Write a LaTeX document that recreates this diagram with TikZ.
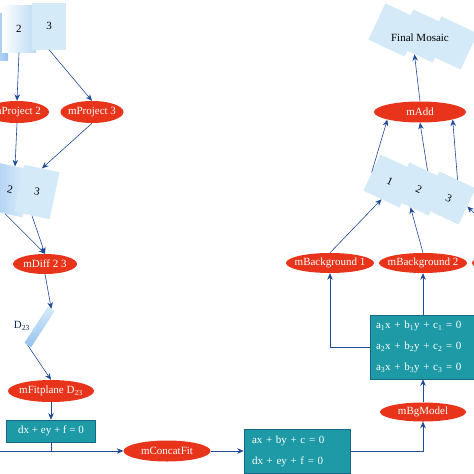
\documentclass[tikz,border=0pt]{standalone}
\usepackage{fontspec}
\setmainfont{Liberation Serif}
\usepackage{xcolor}
\usepackage{tikz}
\usetikzlibrary{shapes.geometric,arrows.meta,calc}

\definecolor{jobred}{RGB}{232,52,26}
\definecolor{fileteal}{RGB}{30,154,166}
\definecolor{filetealdark}{RGB}{22,104,134}
\definecolor{tileblue}{RGB}{213,234,249}
\definecolor{tiledeep}{RGB}{150,195,238}
\definecolor{flowblue}{RGB}{31,74,154}

\tikzset{
    job/.style={ellipse, fill=jobred, text=white, inner xsep=-15pt, inner ysep=-3pt, minimum height=21pt, font=\fontsize{11}{13}\selectfont},
    eqn/.style={rectangle, fill=fileteal, draw=filetealdark, line width=0.6pt, text=white, align=left, inner xsep=6pt, font=\fontsize{11}{21}\selectfont},
    tile/.style={rectangle, fill=tileblue, minimum width=34pt, minimum height=47pt, inner sep=0pt, font=\fontsize{11}{13}\selectfont},
    mtile/.style={tile, minimum width=40pt, minimum height=40pt, rotate=-25},
    flow/.style={draw=flowblue, line width=0.6pt, -{Stealth[length=6.5pt,width=5.5pt]}},
    link/.style={draw=flowblue, line width=0.6pt}
}

\begin{document}
\begin{tikzpicture}[x=1pt,y=-1pt]
        % frame
        \useasboundingbox (0,0) rectangle (474,474);
        \clip (0,0) rectangle (474,474);
        \fill[white] (0,0) rectangle (474,474);

        % input tiles
        \node[tile, left color=white, right color=tiledeep] (in1) at (-9,37) {};
        \node[tile, left color=white, right color=tileblue!60!tiledeep] (in2) at (19,29) {2};
        \node[tile] (in3) at (49,26) {3};

        % projection
        \node[job, minimum width=64pt, minimum height=22pt] (proj2) at (17,112) {mProject 2};
        \node[job, minimum width=63pt, minimum height=22pt] (proj3) at (92,112) {mProject 3};
        \node[tile, rotate=-12, minimum width=36pt, minimum height=48pt, left color=tiledeep!80!tileblue, right color=tileblue!60] (pr2) at (10,190) {2};
        \node[tile, rotate=-12, minimum width=36pt, minimum height=48pt] (pr3) at (37,192) {3};

        % difference and fit
        \node[job, minimum width=64pt, minimum height=20pt] (diff) at (45,264) {mDiff 2 3};
        \node[rectangle, rotate=-33, minimum width=8pt, minimum height=43pt, inner sep=0pt, top color=tileblue, bottom color=tiledeep] (d23) at (39.5,327) {};
        \node[text=flowblue!60!black, font=\fontsize{11}{13}\selectfont, inner sep=0pt] (d23lab) at (22,326) {D\textsubscript{23}};
        \node[job, minimum width=86pt, minimum height=22pt] (fit) at (51,391) {mFitplane D\textsubscript{23}};
        \node[eqn, minimum width=89pt, minimum height=22pt, align=center] (plane) at (51,431) {dx + ey + f = 0};

        % concatenation
        \coordinate (feed) at (0,451);
        \node[job, minimum width=87pt] (concat) at (167,451) {mConcatFit};
        \node[eqn, minimum width=106pt, minimum height=44pt, text width=90pt] (fits) at (297,451) {ax + by + c = 0\\dx + ey + f = 0};

        % background model
        \node[job, minimum width=86pt, minimum height=19pt] (bgmodel) at (423,412) {mBgModel};
        \node[eqn, minimum width=106pt, minimum height=64pt, text width=94pt] (coeffs) at (423,347)
            {a\textsubscript{1}x + b\textsubscript{1}y + c\textsubscript{1} = 0\\a\textsubscript{2}x + b\textsubscript{2}y + c\textsubscript{2} = 0\\a\textsubscript{3}x + b\textsubscript{3}y + c\textsubscript{3} = 0};
        \node[job, minimum width=88pt, minimum height=20pt] (bg1) at (330,263) {mBackground 1};
        \node[job, minimum width=88pt, minimum height=20pt] (bg2) at (423,263) {mBackground 2};
        \node[job, minimum width=88pt, minimum height=20pt] (bg3) at (516,263) {mBackground 3};

        % corrected tiles
        \node[mtile] (cr1) at (390,181) {1};
        \node[mtile] (cr2) at (419,189) {2};
        \node[mtile] (cr3) at (449,198) {3};

        % co-addition
        \node[job, minimum width=92pt] (add) at (420,112) {mAdd};
        \node[mtile] (fm1) at (395,30) {};
        \node[mtile] (fm2) at (423,36) {};
        \node[mtile] (fm3) at (451,43) {};
        \node[font=\fontsize{11}{13}\selectfont] (final) at (420,38) {Final Mosaic};

        % arrows
        \draw[flow] (in2.south) -- (proj2.north);
        \draw[flow] (in3.south) -- (proj3.north);
        \draw[flow] (proj2.south) -- (pr2.north);
        \draw[flow] (proj3.south) -- (pr3.north);
        \draw[flow] (pr2.south) -- (diff.north);
        \draw[flow] (pr3.south) -- (diff.north);
        \draw[flow] (diff.south) -- (d23.north);
        \draw[flow] (d23.south) -- (fit.north);
        \draw[flow] (fit.south) -- (plane.north);
        \draw[link] (plane.south) -- (plane.south |- feed);
        \draw[flow] (feed) -- (concat.west);
        \draw[flow] (concat.east) -- (fits.west);
        \draw[flow] (fits.east) -| (bgmodel.south);
        \draw[flow] (bgmodel.north) -- (coeffs.south);
        \draw[flow] (coeffs.west) -| (bg1.south);
        \draw[flow] (coeffs.north) -- (bg2.south);
        \draw[flow] (bg1.north) -- (cr1.south);
        \draw[flow] (bg2.north) -- (cr2.south);
        \draw[flow] (bg3.north) -- (cr3.east);
        \draw[flow] (cr1.west) -- (add.south west);
        \draw[flow] (cr2.north) -- (add.south);
        \draw[flow] (cr3.north) -- (add.south east);
        \draw[flow] (add.north) -- (fm2.south);

\end{tikzpicture}
\end{document}
